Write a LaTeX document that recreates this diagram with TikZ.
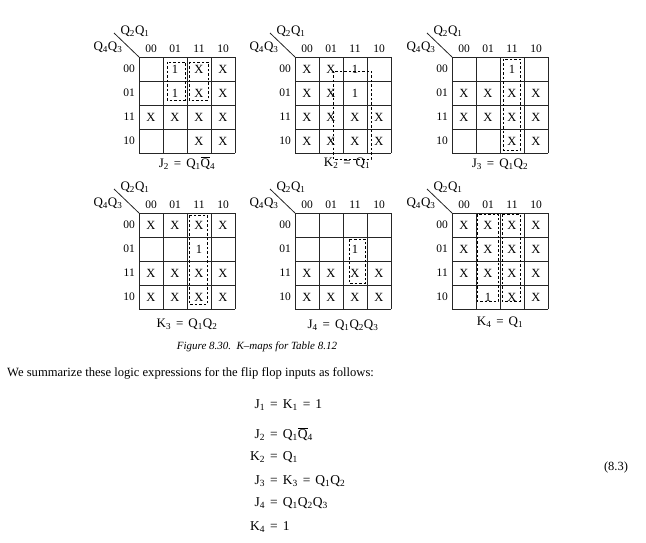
\documentclass[tikz,border=0pt]{standalone}
\usepackage{fontspec}
\setmainfont{Liberation Serif}

\newcommand{\Qbar}{$\overline{\mbox{Q}}$}
\newcommand{\eqsp}{\hspace{5pt}=\hspace{5pt}}

% frame of one K-map: name, x, y of the top left corner
\newcommand{\kmapframe}[3]{%
  \begin{scope}[shift={(#2,#3)}]
    \draw[gridline, step=24pt] (0,0) grid (96,96);
    \draw[gridline] (-25,-24) -- (0,0);
    \node[lbl] (#1-top) at (-4,-26) {Q\textsubscript{2}Q\textsubscript{1}};
    \node[lbl] (#1-side) at (-31,-10) {Q\textsubscript{4}Q\textsubscript{3}};
    \node[hd] (#1-c1) at (12,-8) {00};
    \node[hd] (#1-c2) at (36,-8) {01};
    \node[hd] (#1-c3) at (60,-8) {11};
    \node[hd] (#1-c4) at (84,-8) {10};
    \node[hd, anchor=east] (#1-r1) at (-4,12) {00};
    \node[hd, anchor=east] (#1-r2) at (-4,36) {01};
    \node[hd, anchor=east] (#1-r3) at (-4,60) {11};
    \node[hd, anchor=east] (#1-r4) at (-4,84) {10};
  \end{scope}}

% one row of a K-map: name, x, y, row, four entries
\newcommand{\kmaprow}[8]{%
  \begin{scope}[shift={(#2,#3)}]
    \node[cell] (#1-#4-1) at (12,{12+24*#4}) {#5};
    \node[cell] (#1-#4-2) at (36,{12+24*#4}) {#6};
    \node[cell] (#1-#4-3) at (60,{12+24*#4}) {#7};
    \node[cell] (#1-#4-4) at (84,{12+24*#4}) {#8};
  \end{scope}}

\begin{document}
\begin{tikzpicture}[x=1pt, y=-1pt]
  \useasboundingbox (0,0) rectangle (646,543);
  {
    \tikzset{gridline/.style = {line width=0.8pt, black!85},
             lbl/.style = {inner sep=0pt, font=\fontsize{13}{13}\selectfont},
             hd/.style = {inner sep=0pt, font=\fontsize{11.5}{11.5}\selectfont},
             cell/.style = {inner sep=0pt, font=\fontsize{12.5}{12.5}\selectfont},
             eqn/.style = {inner sep=0pt, anchor=west, font=\fontsize{13.5}{13.5}\selectfont},
             grp/.style = {line width=0.7pt, dash pattern=on 2.5pt off 2pt}}

    % J2
    \kmapframe{jtwo}{139}{57}
    \kmaprow{jtwo}{139}{57}{0}{}{1}{X}{X}
    \kmaprow{jtwo}{139}{57}{1}{}{1}{X}{X}
    \kmaprow{jtwo}{139}{57}{2}{X}{X}{X}{X}
    \kmaprow{jtwo}{139}{57}{3}{}{}{X}{X}
    \draw[grp] (167,62) rectangle (185,100);
    \draw[grp] (189,62) rectangle (208,100);
    \node[lbl] (jtwo-eq) at (187,163) {J\textsubscript{2}\eqsp Q\textsubscript{1}\Qbar\textsubscript{4}};

    % K2
    \kmapframe{ktwo}{295}{57}
    \kmaprow{ktwo}{295}{57}{0}{X}{X}{1}{}
    \kmaprow{ktwo}{295}{57}{1}{X}{X}{1}{}
    \kmaprow{ktwo}{295}{57}{2}{X}{X}{X}{X}
    \kmaprow{ktwo}{295}{57}{3}{X}{X}{X}{X}
    \draw[grp] (333,71) rectangle (371,159);
    \node[lbl] (ktwo-eq) at (347,163) {K\textsubscript{2}\eqsp Q\textsubscript{1}};

    % J3
    \kmapframe{jthree}{452}{57}
    \kmaprow{jthree}{452}{57}{0}{}{}{1}{}
    \kmaprow{jthree}{452}{57}{1}{X}{X}{X}{X}
    \kmaprow{jthree}{452}{57}{2}{X}{X}{X}{X}
    \kmaprow{jthree}{452}{57}{3}{}{}{X}{X}
    \draw[grp] (503,59) rectangle (520,150);
    \node[lbl] (jthree-eq) at (500,164) {J\textsubscript{3}\eqsp Q\textsubscript{1}Q\textsubscript{2}};

    % K3
    \kmapframe{kthree}{139}{213}
    \kmaprow{kthree}{139}{213}{0}{X}{X}{X}{X}
    \kmaprow{kthree}{139}{213}{1}{}{}{1}{}
    \kmaprow{kthree}{139}{213}{2}{X}{X}{X}{X}
    \kmaprow{kthree}{139}{213}{3}{X}{X}{X}{X}
    \draw[grp] (189,215) rectangle (207,304);
    \node[lbl] (kthree-eq) at (187,324) {K\textsubscript{3}\eqsp Q\textsubscript{1}Q\textsubscript{2}};

    % J4
    \kmapframe{jfour}{295}{213}
    \kmaprow{jfour}{295}{213}{0}{}{}{}{}
    \kmaprow{jfour}{295}{213}{1}{}{}{1}{}
    \kmaprow{jfour}{295}{213}{2}{X}{X}{X}{X}
    \kmaprow{jfour}{295}{213}{3}{X}{X}{X}{X}
    \draw[grp] (349,239) rectangle (365,283);
    \node[lbl] (jfour-eq) at (343,325) {J\textsubscript{4}\eqsp Q\textsubscript{1}Q\textsubscript{2}Q\textsubscript{3}};

    % K4
    \kmapframe{kfour}{452}{213}
    \kmaprow{kfour}{452}{213}{0}{X}{X}{X}{X}
    \kmaprow{kfour}{452}{213}{1}{X}{X}{X}{X}
    \kmaprow{kfour}{452}{213}{2}{X}{X}{X}{X}
    \kmaprow{kfour}{452}{213}{3}{}{1}{X}{X}
    \draw[grp] (477,214) rectangle (498,301);
    \draw[grp] (502,214) rectangle (520,301);
    \node[lbl] (kfour-eq) at (500,322) {K\textsubscript{4}\eqsp Q\textsubscript{1}};

    \node[inner sep=0pt, font=\fontsize{11}{11}\selectfont\itshape] (figcap) at (257,347)
      {Figure 8.30.\ \ K--maps for Table 8.12};
    \node[inner sep=0pt, anchor=west, font=\fontsize{12.6}{13}\selectfont] (intro) at (7,373)
      {We summarize these logic expressions for the flip flop inputs as follows:};

    \node[eqn] (eq1) at (244,405) {\makebox[21pt][r]{J\textsubscript{1}}\eqsp K\textsubscript{1}\eqsp 1};
    \node[eqn] (eq2) at (244,434) {\makebox[21pt][r]{J\textsubscript{2}}\eqsp Q\textsubscript{1}\Qbar\textsubscript{4}};
    \node[eqn] (eq3) at (244,457) {\makebox[21pt][r]{K\textsubscript{2}}\eqsp Q\textsubscript{1}};
    \node[eqn] (eq4) at (244,481) {\makebox[21pt][r]{J\textsubscript{3}}\eqsp K\textsubscript{3}\eqsp Q\textsubscript{1}Q\textsubscript{2}};
    \node[eqn] (eq5) at (244,503) {\makebox[21pt][r]{J\textsubscript{4}}\eqsp Q\textsubscript{1}Q\textsubscript{2}Q\textsubscript{3}};
    \node[eqn] (eq6) at (244,527) {\makebox[21pt][r]{K\textsubscript{4}}\eqsp 1};
    \node[inner sep=0pt, font=\fontsize{12.5}{12.5}\selectfont] (eqnum) at (616,467) {(8.3)};
  }
\end{tikzpicture}
\end{document}
